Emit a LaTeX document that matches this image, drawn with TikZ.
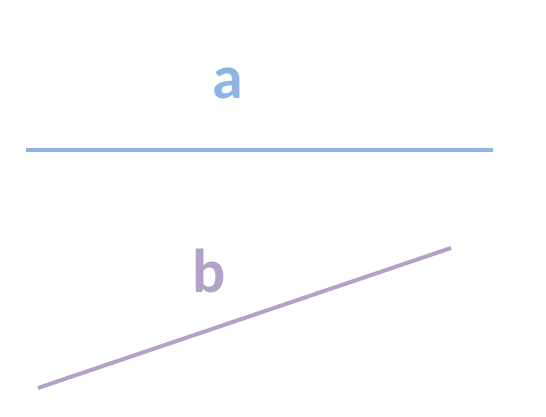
\documentclass[tikz,border=0pt]{standalone}
\usepackage{fontspec}
\setmainfont{Carlito}
\usepackage{xcolor}
\usepackage{tikz}
\usetikzlibrary{positioning}
\definecolor{lineblue}{HTML}{8EB4E3}
\definecolor{linepurple}{HTML}{B3A2C7}
\tikzset{
  seglab/.style={font=\fontsize{62}{62}\selectfont\bfseries, inner sep=0pt, anchor=base},
  seg/.style={line width=4pt},
}
\begin{document}
\begin{tikzpicture}[x=1pt,y=1pt]
\useasboundingbox (0,0) rectangle (546,416);
\coordinate (a1) at (26,266);
\coordinate (a2) at (493,266);
\coordinate (b1) at (38,28);
\coordinate (b2) at (451,168);
\node[seglab, text=lineblue] (laba) at (228,317) {a};
\node[seglab, text=linepurple] (labb) at (209.5,124) {b};
\draw[seg, lineblue] (a1) -- (a2);
\draw[seg, linepurple] (b1) -- (b2);
\end{tikzpicture}
\end{document}
